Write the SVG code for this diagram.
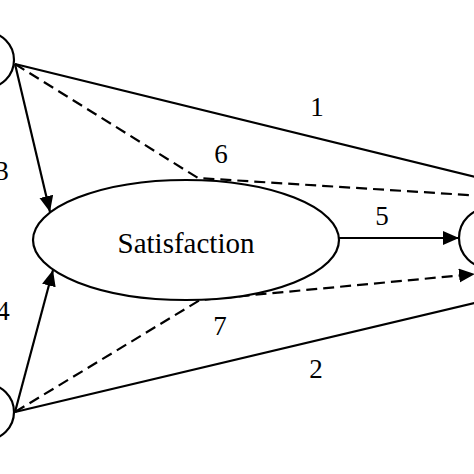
<svg xmlns="http://www.w3.org/2000/svg" width="474" height="474" viewBox="0 0 474 474">
<style>
.node{fill:#fff;stroke:#000;stroke-width:2.2}
.ln{fill:none;stroke:#000;stroke-width:2.2}
.dash{stroke-dasharray:11,6}
.lbl{font-family:"Liberation Serif","Times New Roman",serif;font-size:27px;fill:#000;text-anchor:middle}
.title{font-family:"Liberation Serif","Times New Roman",serif;font-size:29px;fill:#000;text-anchor:middle}
</style>
<defs>
<marker id="ah" markerUnits="userSpaceOnUse" markerWidth="18" markerHeight="16" refX="16" refY="7" orient="auto">
<path d="M0,0 L16,7 L0,14 Z" fill="#000" stroke="none"/>
</marker>
</defs>
<rect width="474" height="474" fill="#fff"/>
<g id="connectors">
<path class="ln" d="M15,64 L500,183"/>
<path class="ln dash" d="M15,64 L198,178 L500,197"/>
<path class="ln" d="M15,64 L50,212" marker-end="url(#ah)"/>
<path class="ln" d="M15,412 L53,270" marker-end="url(#ah)"/>
<path class="ln" d="M15,412 L500,297"/>
<path class="ln dash" d="M15,412 L200,300 L475,274" marker-end="url(#ah)"/>
<path class="ln" d="M339,238 L459,238" marker-end="url(#ah)"/>
</g>
<g id="node-left-top"><circle class="node" cx="-14" cy="60" r="28"/></g>
<g id="node-left-bottom"><circle class="node" cx="-14" cy="412" r="28"/></g>
<g id="node-right"><circle class="node" cx="489" cy="238" r="30"/></g>
<g id="node-satisfaction">
<ellipse class="node" cx="186" cy="240" rx="153" ry="60"/>
<text class="title" x="186" y="253">Satisfaction</text>
</g>
<g id="labels">
<text class="lbl" x="317" y="116">1</text>
<text class="lbl" x="316" y="378">2</text>
<text class="lbl" x="2" y="180">3</text>
<text class="lbl" x="3" y="320">4</text>
<text class="lbl" x="382" y="225">5</text>
<text class="lbl" x="221" y="163">6</text>
<text class="lbl" x="220" y="335">7</text>
</g>
</svg>
